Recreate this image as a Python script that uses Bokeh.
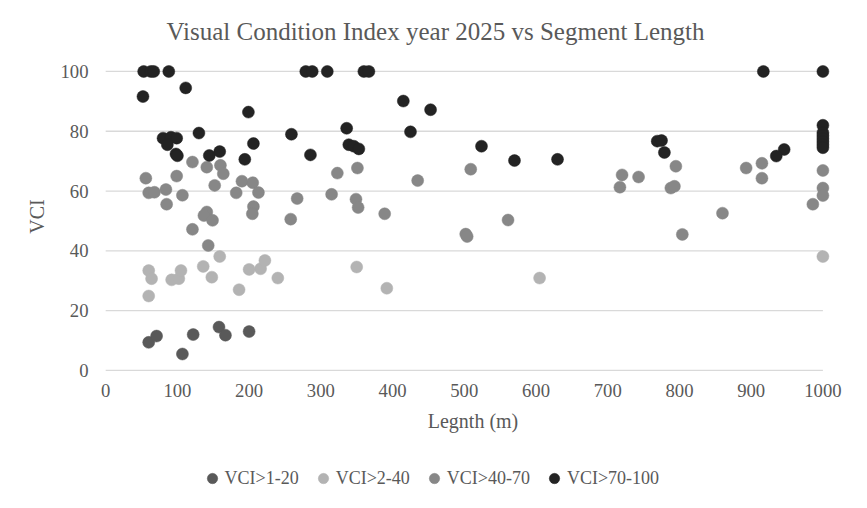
from bokeh.plotting import figure
from bokeh.models import Range1d, FixedTicker, Legend, LegendItem, LinearAxis
from bokeh.embed import file_html
from bokeh.resources import INLINE

# Segment length (m) and VCI score, one pair of lists per condition band
vci_1_20_len = [60, 71, 107, 122, 158, 167, 200]
vci_1_20_val = [9.4, 11.5, 5.5, 12.0, 14.5, 11.8, 13.0]

vci_2_40_len = [60, 64, 60, 92, 102, 105, 136, 148, 159, 186, 200, 216, 222,
                240, 350, 392, 605, 1000]
vci_2_40_val = [33.4, 30.7, 24.9, 30.3, 30.7, 33.4, 34.8, 31.2, 38.1, 27.0,
                33.8, 34.0, 36.8, 30.9, 34.6, 27.5, 30.9, 38.1]

vci_40_70_len = [56, 99, 121, 141, 160, 164, 152, 190, 205, 60, 68, 84, 107,
                 85, 182, 213, 206, 204.5, 141, 137, 149, 121, 143,
                 323, 351, 435, 267, 315, 349, 352, 389, 258,
                 509, 720, 743, 717, 561, 502, 504,
                 795, 788, 793, 804, 860, 893, 915, 915, 986, 1000, 1000, 1000]
vci_40_70_val = [64.3, 65.0, 69.7, 68.0, 68.6, 65.8, 61.9, 63.3, 62.8, 59.4,
                 59.6, 60.5, 58.6, 55.6, 59.4, 59.5, 54.8, 52.4, 53.0, 51.8,
                 50.2, 47.2, 41.8,
                 66.0, 67.7, 63.5, 57.5, 58.9, 57.3, 54.5, 52.4, 50.6,
                 67.3, 65.4, 64.7, 61.3, 50.3, 45.6, 44.8,
                 68.3, 61.0, 61.6, 45.5, 52.6, 67.7, 69.3, 64.3, 55.6, 66.9,
                 61.0, 58.5]

vci_70_100_len = [53, 63, 67, 88, 52, 111.6, 199, 130, 80, 91, 99, 86, 98,
                  100, 144.5, 159, 194, 206,
                  279, 288, 309, 360, 367, 415, 453, 259, 336, 425, 339, 346,
                  353, 285.5,
                  524, 570, 630, 769, 775, 779,
                  917, 1000, 946, 935, 1000, 1000, 1000, 1000, 1000, 1000, 1000]
vci_70_100_val = [100, 100, 100, 100, 91.6, 94.5, 86.4, 79.4, 77.7, 78.0,
                  77.7, 75.5, 72.4, 71.8, 71.9, 73.2, 70.6, 75.9,
                  100, 100, 100, 100, 100, 90.1, 87.2, 79.0, 81.0, 79.8, 75.5,
                  75.0, 74.1, 72.1,
                  75.0, 70.2, 70.6, 76.7, 76.9, 72.9,
                  100, 100, 73.9, 71.7, 82.0, 79.5, 78.5, 77.5, 76.5, 75.5,
                  74.5]

series_names = ["VCI>1-20", "VCI>2-40", "VCI>40-70", "VCI>70-100"]
series_colors = ["#595959", "#b3b3b3", "#878787", "#232323"]

x_ticks = [0, 100, 200, 300, 400, 500, 600, 700, 800, 900, 1000]
y_ticks = [0, 20, 40, 60, 80, 100]

chart_title = "Visual Condition Index year 2025 vs Segment Length"
x_title = "Legnth (m)"
y_title = "VCI"

TEXT = "#595959"
GRID = "#d9d9d9"
FONT = "Liberation Serif"

# The frame runs to the bottom edge so the legend row can live inside it;
# the x axis is pinned at VCI = 0 and the range continues below it.
# The x range runs past 1000 so the last tick label has room.
p = figure(width=867, height=508, output_backend="svg", toolbar_location=None,
           x_range=Range1d(-10, 1034.3), y_range=Range1d(-46.17, 104),
           min_border_left=98, min_border_right=20,
           min_border_top=59, min_border_bottom=0)
p.title.text = ""
p.outline_line_color = None
p.background_fill_color = "white"
p.border_fill_color = "white"
p.xgrid.visible = False
p.ygrid.visible = False

# horizontal gridlines spanning only the 0..1000 m extent
p.segment(x0=[x_ticks[0]] * len(y_ticks), x1=[x_ticks[-1]] * len(y_ticks),
          y0=y_ticks, y1=y_ticks, line_color=GRID, line_width=1.3,
          level="underlay")


def plain_axis(ax):
    ax.axis_line_color = None
    ax.major_tick_line_color = None
    ax.minor_tick_line_color = None
    ax.major_tick_out = 0
    ax.major_tick_in = 0
    ax.major_label_text_font = FONT
    ax.major_label_text_color = TEXT
    ax.axis_label_text_font = FONT
    ax.axis_label_text_font_style = "normal"
    ax.axis_label_text_color = TEXT


for ax, ticks in ((p.xaxis[0], x_ticks), (p.yaxis[0], y_ticks)):
    plain_axis(ax)
    ax.ticker = FixedTicker(ticks=ticks)
    ax.major_label_text_font_size = "18.7px"
    ax.axis_label_text_font_size = "20px"

p.xaxis.fixed_location = 0
p.xaxis.axis_label = x_title
p.xaxis.major_label_standoff = 14
p.xaxis.axis_label_standoff = 9

# leading spaces lift the rotated label to the middle of the 0..100 band
p.yaxis.axis_label = "\u2003" * 6 + "\u2002\u2005" + y_title
p.yaxis.major_label_standoff = 10
p.yaxis.axis_label_standoff = 9

# chart title carried by a tick-less axis along the top; the trailing
# em spaces move the visible text to the middle of the whole canvas
top = LinearAxis(ticker=FixedTicker(ticks=[]),
                 axis_label=chart_title + "\u2003" * 3)
plain_axis(top)
top.axis_label_text_font_size = "25px"
top.axis_label_standoff = 15
p.add_layout(top, "above")

renderers = []
for xs, ys, color in ((vci_1_20_len, vci_1_20_val, series_colors[0]),
                      (vci_2_40_len, vci_2_40_val, series_colors[1]),
                      (vci_40_70_len, vci_40_70_val, series_colors[2]),
                      (vci_70_100_len, vci_70_100_val, series_colors[3])):
    r = p.scatter(x=xs, y=ys, size=12, fill_color=color, line_color=color,
                  line_width=0.5)
    renderers.append(r)

legend = Legend(items=[LegendItem(label=n, renderers=[r])
                       for n, r in zip(series_names, renderers)],
                orientation="horizontal", location=(100.5, 17),
                glyph_width=26, glyph_height=26, label_standoff=0, spacing=11,
                padding=0, margin=0, border_line_alpha=0,
                background_fill_alpha=0,
                label_text_font=FONT, label_text_font_size="18px",
                label_text_color=TEXT)
p.add_layout(legend)

open("out.html", "w").write(file_html(p, INLINE))
